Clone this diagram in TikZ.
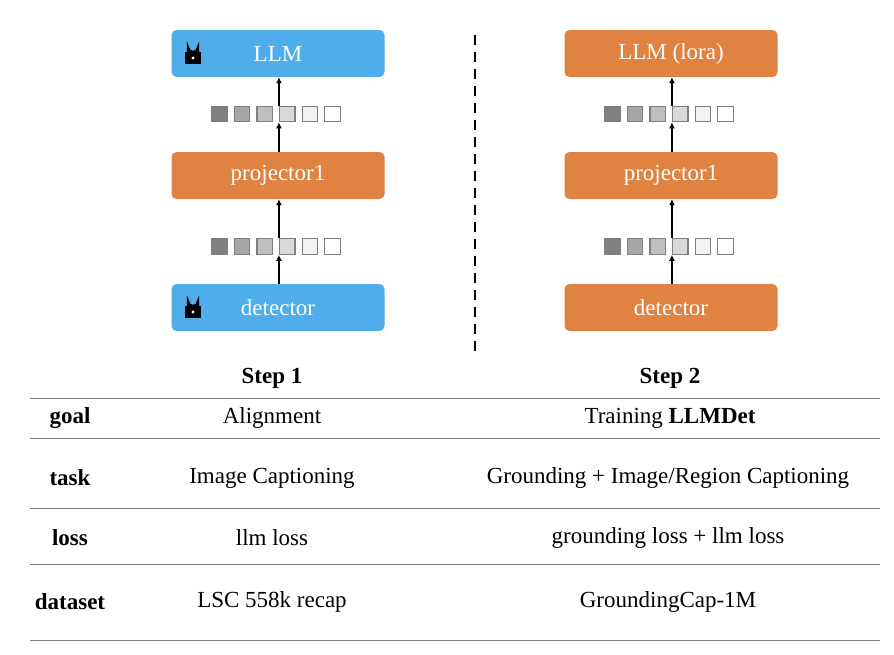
\documentclass[tikz,border=0pt]{standalone}
\usepackage{fontspec}
\setmainfont{Liberation Serif}
\usetikzlibrary{arrows.meta}
\begin{document}
\begin{tikzpicture}[x=1pt,y=-1pt,
 box/.style={rounded corners=5pt,minimum width=213pt,minimum height=47pt,text=white,font=\fontsize{23}{26}\selectfont,inner sep=0pt},
 blue/.style={box,fill={rgb,255:red,78;green,173;blue,234}},
 orange/.style={box,fill={rgb,255:red,224;green,131;blue,66}},
 sq/.style={draw={rgb,255:red,127;green,127;blue,127},line width=1.2pt,minimum size=15.5pt,inner sep=0pt},
 arr/.style={-{Latex[length=6pt,width=6pt]},line width=2pt},
 txt/.style={font=\fontsize{23}{26}\selectfont,inner sep=0pt},
 hl/.style={draw={rgb,255:red,128;green,128;blue,128},line width=1pt}]
\useasboundingbox (0,0) rectangle (894,654);
\newcommand{\squares}[3]{%
 \foreach \c/\i in {50/0,35/1,25/2,15/3,5/4,0/5}{\node[sq,fill=black!\c] (#3\i) at (#1+\i*22.6-56.5,#2) {};}}
\newcommand{\lock}[2]{%
 \draw[line width=2.2pt] (#1-5,#2-1) -- (#1-5,#2-6) arc (180:0:5) -- (#1+5,#2-1);
 \fill (#1-8,#2-1) rectangle (#1+8,#2+11);
 \fill[white] (#1,#2+5) circle (1.6);}
% left
\node[blue] (llm1) at (278,53.5) {LLM};
\node[orange] (proj1) at (278,175.5) {projector1};
\node[blue] (det1) at (278,307.5) {detector};
\lock{193}{53}\lock{193}{307}
\squares{276}{114}{a}
\squares{276}{246.5}{b}
\draw[arr] (a3.north west) -- (llm1.south -| a3.north west);
\draw[arr] (proj1.north -| a3.north west) -- (a3.south west);
\draw[arr] (b3.north west) -- (proj1.south -| b3.north west);
\draw[arr] (det1.north -| b3.north west) -- (b3.south west);
% right
\node[orange] (llm2) at (671,53.5) {LLM (lora)};
\node[orange] (proj2) at (671,175.5) {projector1};
\node[orange] (det2) at (671,307.5) {detector};
\squares{669}{114}{c}
\squares{669}{246.5}{d}
\draw[arr] (c3.north west) -- (llm2.south -| c3.north west);
\draw[arr] (proj2.north -| c3.north west) -- (c3.south west);
\draw[arr] (d3.north west) -- (proj2.south -| d3.north west);
\draw[arr] (det2.north -| d3.north west) -- (d3.south west);
\coordinate (dt) at (475,35); \coordinate (db) at (475,352);
\draw[line width=2.5pt,dash pattern=on 10pt off 7pt] (dt) -- (db);
% table
\node[txt,font=\fontsize{23}{26}\selectfont\bfseries] (s1) at (272,378) {Step 1};
\node[txt,font=\fontsize{23}{26}\selectfont\bfseries] (s2) at (670,378) {Step 2};
\foreach \y/\n in {398/l0,438/l1,508/l2,564/l3,640/l4}{
 \coordinate (\n a) at (30,\y); \coordinate (\n b) at (880,\y); \draw[hl] (\n a) -- (\n b);}
\node[txt,font=\fontsize{23}{26}\selectfont\bfseries] (g) at (70,418) {goal};
\node[txt] (g1) at (272,418) {Alignment};
\node[txt] (g2) at (670,418) {Training \textbf{LLMDet}};
\node[txt,font=\fontsize{23}{26}\selectfont\bfseries] (t) at (70,478) {task};
\node[txt] (t1) at (272,478) {Image Captioning};
\node[txt] (t2) at (668,478) {Grounding + Image/Region Captioning};
\node[txt,font=\fontsize{23}{26}\selectfont\bfseries] (l) at (70,538) {loss};
\node[txt] (l1) at (272,538) {llm loss};
\node[txt] (l2) at (668,538) {grounding loss + llm loss};
\node[txt,font=\fontsize{23}{26}\selectfont\bfseries] (d) at (70,602) {dataset};
\node[txt] (d1) at (272,602) {LSC 558k recap};
\node[txt] (d2) at (668,602) {GroundingCap-1M};
\end{tikzpicture}
\end{document}
